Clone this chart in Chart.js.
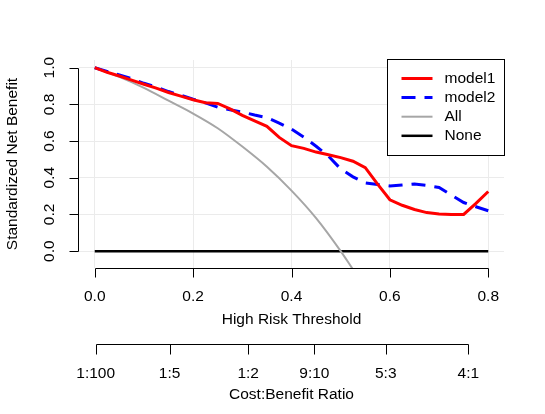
<!DOCTYPE html>
<html>
<head>
<meta charset="utf-8">
<script src="https://cdn.jsdelivr.net/npm/chart.js@4.4.0/dist/chart.umd.min.js"></script>
<style>html,body{margin:0;padding:0;background:#fff;}</style>
</head>
<body>
<canvas id="dca" width="545" height="414"></canvas>
<script>
// Decision curve: standardized net benefit by high risk threshold
const thresholds = [0, 0.025, 0.05, 0.075, 0.1, 0.125, 0.15, 0.175, 0.2, 0.225, 0.25, 0.275, 0.3, 0.325, 0.35, 0.375, 0.4,
                    0.425, 0.45, 0.475, 0.5, 0.525, 0.55, 0.575, 0.6, 0.625, 0.65, 0.675, 0.7, 0.725, 0.75, 0.775, 0.8];
const model1 = [1.0, 0.975, 0.955, 0.932, 0.91, 0.889, 0.865, 0.845, 0.825, 0.809, 0.805, 0.775, 0.74, 0.71, 0.68, 0.62, 0.575,
                0.56, 0.54, 0.525, 0.51, 0.49, 0.455, 0.365, 0.28, 0.25, 0.227, 0.21, 0.202, 0.2, 0.2, 0.26, 0.325];
const model2 = [1.0, 0.98, 0.96, 0.94, 0.915, 0.895, 0.87, 0.85, 0.828, 0.808, 0.785, 0.771, 0.758, 0.742, 0.728, 0.698, 0.665,
                0.622, 0.572, 0.518, 0.448, 0.405, 0.372, 0.363, 0.355, 0.36, 0.366, 0.358, 0.347, 0.305, 0.265, 0.242, 0.22];
const allX = [0, 0.05, 0.1, 0.15, 0.2, 0.25, 0.3, 0.35, 0.4, 0.45, 0.5, 0.525];
const allY = [1.0, 0.95, 0.89, 0.82, 0.75, 0.67, 0.57, 0.46, 0.33, 0.18, 0.0, -0.1];
const noneX = [0, 0.8];
const noneY = [0, 0];

const xTicks = [0, 0.2, 0.4, 0.6, 0.8];
const yTicks = [0, 0.2, 0.4, 0.6, 0.8, 1.0];
const cbTicks = [1 / 101, 1 / 6, 1 / 3, 9 / 19, 5 / 8, 4 / 5];
const cbLabels = ['1:100', '1:5', '1:2', '9:10', '5:3', '4:1'];

const FONT = '"Liberation Sans", Arial, sans-serif';
const FSIZE = 15.5;

function pts(xs, ys) {
    return xs.map((v, i) => ({ x: v, y: ys[i] }));
}

// R-style axes (line spans first..last tick), rotated y labels, boxed legend
const rStyle = {
    id: 'rStyle',
    afterDraw(chart) {
        const { ctx, chartArea, scales } = chart;
        const { x, y, x2 } = scales;
        ctx.save();
        ctx.strokeStyle = '#000';
        ctx.lineWidth = 1;

        // y axis
        const ax = Math.round(chartArea.left) - 0.5;
        ctx.beginPath();
        ctx.moveTo(ax, Math.round(y.getPixelForValue(yTicks[0])) + 0.5);
        ctx.lineTo(ax, Math.round(y.getPixelForValue(yTicks[yTicks.length - 1])) + 0.5);
        yTicks.forEach(v => {
            const p = Math.round(y.getPixelForValue(v)) + 0.5;
            ctx.moveTo(ax, p);
            ctx.lineTo(ax - 9, p);
        });
        ctx.stroke();

        ctx.fillStyle = '#000';
        ctx.font = FSIZE + 'px ' + FONT;
        ctx.textAlign = 'center';
        ctx.textBaseline = 'middle';
        yTicks.forEach(v => {
            ctx.save();
            ctx.translate(50, y.getPixelForValue(v));
            ctx.rotate(-Math.PI / 2);
            ctx.fillText(v.toFixed(1), 0, 0);
            ctx.restore();
        });

        // x axis
        const ay = Math.round(chartArea.bottom) + 0.5;
        ctx.beginPath();
        ctx.moveTo(Math.round(x.getPixelForValue(xTicks[0])) + 0.5, ay);
        ctx.lineTo(Math.round(x.getPixelForValue(xTicks[xTicks.length - 1])) + 0.5, ay);
        xTicks.forEach(v => {
            const p = Math.round(x.getPixelForValue(v)) + 0.5;
            ctx.moveTo(p, ay);
            ctx.lineTo(p, ay + 9);
        });
        ctx.stroke();

        // cost:benefit axis
        const by = Math.round(x2.top + 15) + 0.5;
        ctx.beginPath();
        ctx.moveTo(Math.round(x2.getPixelForValue(cbTicks[0])) + 0.5, by);
        ctx.lineTo(Math.round(x2.getPixelForValue(cbTicks[cbTicks.length - 1])) + 0.5, by);
        cbTicks.forEach(v => {
            const p = Math.round(x2.getPixelForValue(v)) + 0.5;
            ctx.moveTo(p, by);
            ctx.lineTo(p, by + 10);
        });
        ctx.stroke();

        // legend
        const right = Math.round(chartArea.right) + 0.5;
        const top = Math.round(chartArea.top) - 0.5;
        ctx.fillStyle = '#fff';
        ctx.fillRect(right - 117, top, 117, 96);
        ctx.strokeRect(right - 117, top, 117, 96);
        ctx.textAlign = 'left';
        chart.data.datasets.forEach((ds, i) => {
            const ry = top + 19 + i * 19.1;
            ctx.save();
            ctx.strokeStyle = ds.borderColor;
            ctx.lineWidth = ds.borderWidth;
            ctx.setLineDash(ds.borderDash || []);
            ctx.beginPath();
            ctx.moveTo(right - 103, ry);
            ctx.lineTo(right - 72, ry);
            ctx.stroke();
            ctx.restore();
            ctx.fillStyle = '#000';
            ctx.fillText(ds.label, right - 60, ry);
        });
        ctx.restore();
    }
};

Chart.defaults.color = '#000';
Chart.defaults.font.family = FONT;
Chart.defaults.font.size = FSIZE;

new Chart(document.getElementById('dca'), {
    type: 'line',
    data: {
        datasets: [
            { label: 'model1', data: pts(thresholds, model1), borderColor: '#ff0000', borderWidth: 3, pointRadius: 0, tension: 0 },
            { label: 'model2', data: pts(thresholds, model2), borderColor: '#0000ff', borderWidth: 3, borderDash: [14, 9], pointRadius: 0, tension: 0 },
            { label: 'All', data: pts(allX, allY), borderColor: '#a6a6a6', borderWidth: 2, pointRadius: 0, cubicInterpolationMode: 'monotone' },
            { label: 'None', data: pts(noneX, noneY), borderColor: '#000000', borderWidth: 2.5, pointRadius: 0 }
        ]
    },
    options: {
        responsive: false,
        animation: false,
        devicePixelRatio: 1,
        layout: { padding: { top: 60, right: 41, bottom: 10, left: 0 } },
        plugins: { legend: { display: false }, tooltip: { enabled: false } },
        scales: {
            x: {
                type: 'linear', position: 'bottom', weight: 0,
                min: -0.032, max: 0.832,
                afterBuildTicks: s => { s.ticks = xTicks.map(v => ({ value: v })); },
                afterFit: s => { s.height = 61; },
                grid: { color: '#ebebeb', drawTicks: false },
                border: { display: false },
                ticks: { padding: 19.7, maxRotation: 0, callback: v => v.toFixed(1) },
                title: { display: true, text: 'High Risk Threshold', padding: { top: 0, bottom: 0 } }
            },
            x2: {
                type: 'linear', position: 'bottom', weight: 1,
                min: -0.0254, max: 0.8757,
                afterBuildTicks: s => { s.ticks = cbTicks.map(v => ({ value: v })); },
                afterFit: s => { s.height = 75; },
                grid: { display: false, drawTicks: false },
                border: { display: false },
                ticks: { padding: 35.7, maxRotation: 0, autoSkip: false,
                         callback: (v, i) => cbLabels[i] },
                title: { display: true, text: 'Cost:Benefit Ratio', padding: { top: 0, bottom: 0 } }
            },
            y: {
                type: 'linear', position: 'left',
                min: -0.092, max: 1.042,
                afterBuildTicks: s => { s.ticks = yTicks.map(v => ({ value: v })); },
                afterFit: s => { s.width = 79; },
                grid: { color: '#ebebeb', drawTicks: false },
                border: { display: false },
                ticks: { display: false },
                title: { display: true, text: 'Standardized Net Benefit', padding: { top: 3.7, bottom: 0 } }
            }
        }
    },
    plugins: [rStyle]
});
</script>
</body>
</html>
